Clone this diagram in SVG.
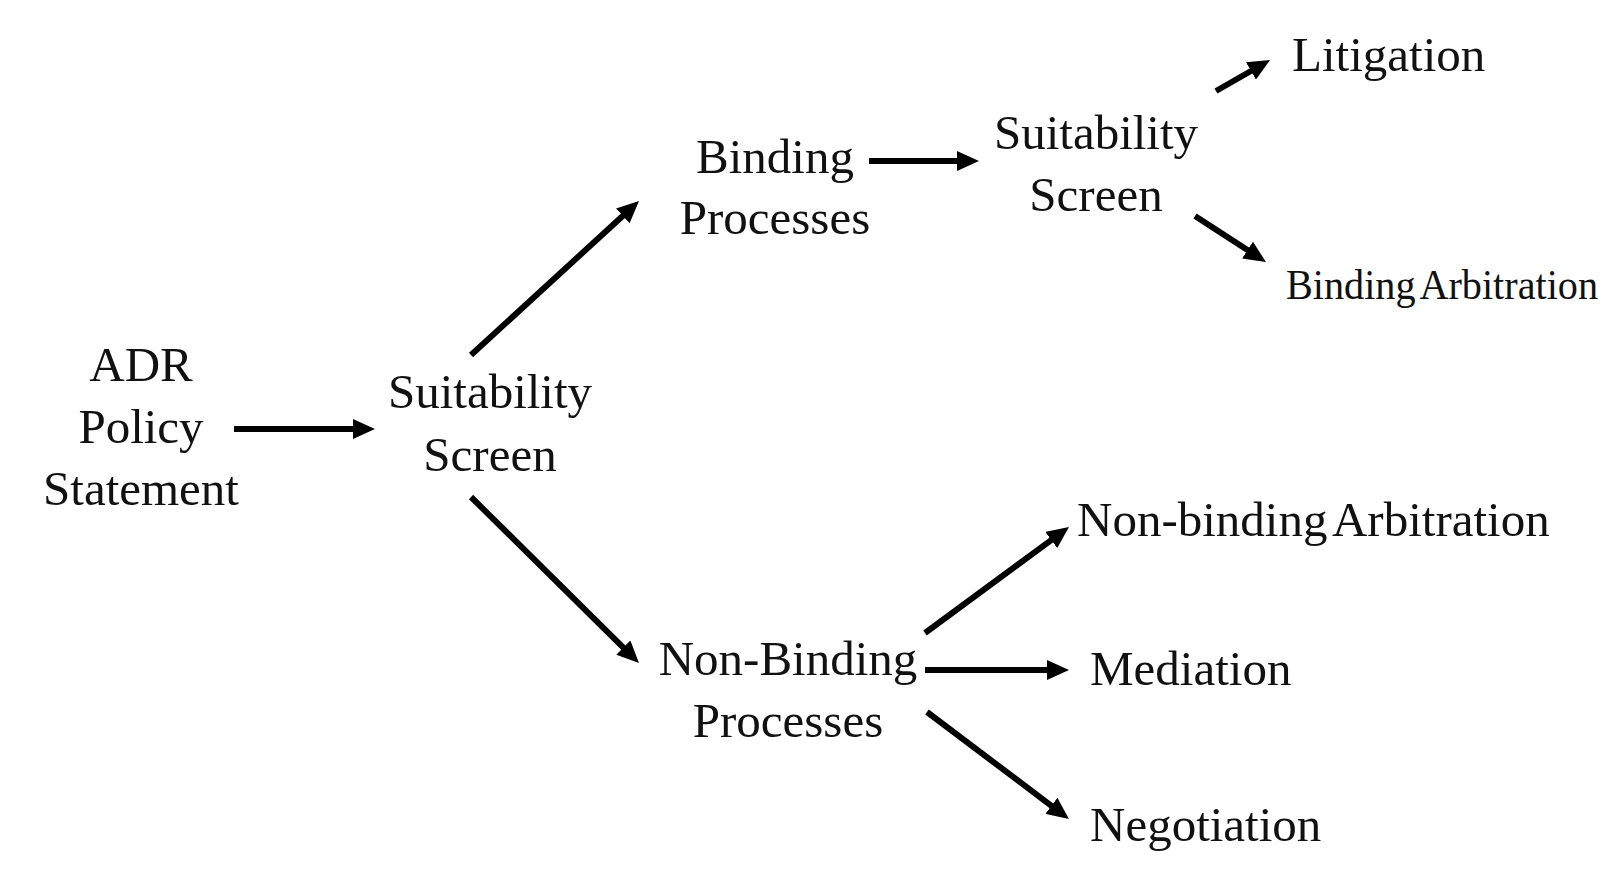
<svg xmlns="http://www.w3.org/2000/svg" width="1612" height="887" viewBox="0 0 1612 887">
<style>
  text { font-family: "Liberation Serif", "Times New Roman", serif; font-size: 49px; fill: #111; }
  .c { text-anchor: middle; }
  .small { font-size: 42px; word-spacing: -4px; }
  .tight { word-spacing: -5px; }
  .conn line { stroke: #000; stroke-width: 6; marker-end: url(#ah); }
</style>
<defs>
  <marker id="ah" markerUnits="userSpaceOnUse" viewBox="0 0 22 20" markerWidth="22" markerHeight="20" refX="5" refY="10" orient="auto">
    <path d="M0,0 L22,10 L0,20 z" fill="#000"/>
  </marker>
</defs>
<rect width="1612" height="887" fill="#fff"/>
<g id="connectors" class="conn">
  <line x1="234" y1="429" x2="358" y2="429"/>
  <line x1="471" y1="355" x2="626.5" y2="212.5"/>
  <line x1="471" y1="497" x2="626.9" y2="651.1"/>
  <line x1="869" y1="161" x2="962" y2="161"/>
  <line x1="1216" y1="91" x2="1255.3" y2="68.5"/>
  <line x1="1195" y1="216" x2="1251.7" y2="252.8"/>
  <line x1="925" y1="633" x2="1055.3" y2="537.1"/>
  <line x1="925" y1="670" x2="1052" y2="670"/>
  <line x1="927" y1="712" x2="1055.4" y2="808.8"/>
</g>
<g id="adr">
  <text class="c" x="141" y="381">ADR</text>
  <text class="c" x="141" y="443">Policy</text>
  <text class="c" x="141" y="505">Statement</text>
</g>
<g id="screen1">
  <text class="c" x="490" y="408">Suitability</text>
  <text class="c" x="490" y="471">Screen</text>
</g>
<g id="binding">
  <text class="c" x="775" y="173">Binding</text>
  <text class="c" x="775" y="234">Processes</text>
</g>
<g id="screen2">
  <text class="c" x="1096" y="149">Suitability</text>
  <text class="c" x="1096" y="211">Screen</text>
</g>
<g id="litigation">
  <text x="1292" y="71">Litigation</text>
</g>
<g id="binding-arbitration">
  <text class="small" x="1286" y="299" textLength="312" lengthAdjust="spacingAndGlyphs">Binding Arbitration</text>
</g>
<g id="nonbinding">
  <text class="c" x="788" y="675">Non-Binding</text>
  <text class="c" x="788" y="737">Processes</text>
</g>
<g id="nonbinding-arbitration">
  <text class="tight" x="1077" y="536">Non-binding Arbitration</text>
</g>
<g id="mediation">
  <text x="1090" y="685">Mediation</text>
</g>
<g id="negotiation">
  <text x="1090" y="841">Negotiation</text>
</g>
</svg>
